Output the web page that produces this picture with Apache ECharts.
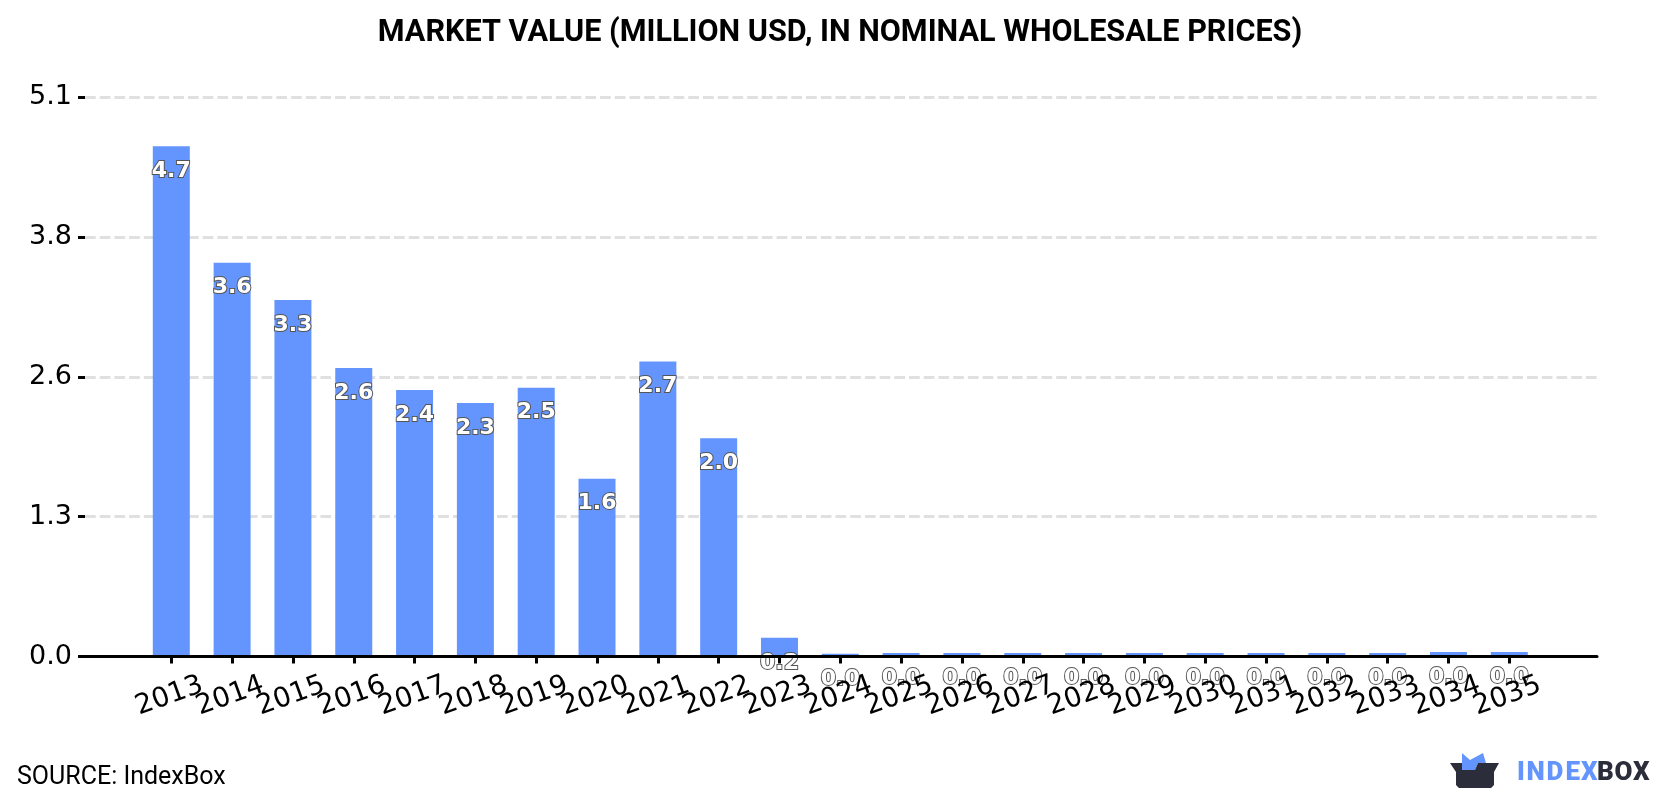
<!DOCTYPE html>
<html>
<head>
<meta charset="utf-8">
<title>Market value</title>
<style>html,body{margin:0;padding:0;background:#fff}#chart{width:1680px;height:800px}</style>
<script src="https://cdn.jsdelivr.net/npm/echarts@6/dist/echarts.min.js"></script>
</head>
<body>
<div id="chart"></div>
<script>
const years = [2013,2014,2015,2016,2017,2018,2019,2020,2021,2022,2023,2024,2025,2026,2027,2028,2029,2030,2031,2032,2033,2034,2035];
const marketValue = [4.65,3.59,3.25,2.63,2.43,2.31,2.45,1.62,2.69,1.99,0.17,0.024,0.033,0.033,0.033,0.033,0.033,0.033,0.033,0.033,0.033,0.042,0.042];
const yTickLabels = ['0.0','1.3','2.6','3.8','5.1'];
const titleText = 'MARKET VALUE (MILLION USD, IN NOMINAL WHOLESALE PRICES)';
const sourceText = 'SOURCE: IndexBox';

const BLUE = '#6495ff';
const INK = '#2b2d3a';
const X_MIN = 2011.581;
const X_MAX = 2036.442;

// Wordmark letters are placed one by one to get its wide tracking.
const brandFont = {fontFamily: 'Roboto', fontWeight: 900, fontSize: 26};
const brandLetters = [['I',1517,BLUE],['N',1526.5,BLUE],['D',1546.5,BLUE],['E',1565.5,BLUE],['X',1581,BLUE],['B',1597,INK],['O',1614.5,INK],['X',1633,INK]];

// The rotated year labels overlap their neighbours; the axis drops a label next to an
// overlapping end label, so odd and even years sit on two coincident axes.
const yearLabels = values => ({
  customValues: values,
  hideOverlap: false,
  rotate: 20,
  align: 'center',
  verticalAlign: 'middle',
  margin: 39,
  padding: [0, 4, 0, 0],
  fontFamily: 'DejaVu Sans',
  fontSize: 27.5,
  color: '#000',
  formatter: v => String(v)
});

const chart = echarts.init(document.getElementById('chart'), null, {renderer: 'canvas'});
chart.setOption({
  animation: false,
  backgroundColor: '#fff',
  title: {
    text: titleText,
    left: 'center',
    top: 13,
    textStyle: {fontFamily: 'Roboto', fontSize: 30.6, fontWeight: 'bold', color: '#000'}
  },
  grid: {left: 85, right: 83, top: 97, height: 559.5, containLabel: false},
  xAxis: [{
    type: 'value',
    position: 'bottom',
    min: X_MIN,
    max: X_MAX,
    z: 3,
    splitLine: {show: false},
    axisLine: {show: true, onZero: false, lineStyle: {color: '#000', width: 3}},
    axisTick: {show: true, customValues: years, length: 7, lineStyle: {color: '#000', width: 3}},
    axisLabel: yearLabels(years.filter(y => y % 2 === 1))
  }, {
    type: 'value',
    position: 'bottom',
    min: X_MIN,
    max: X_MAX,
    z: 3,
    splitLine: {show: false},
    axisLine: {show: false, onZero: false},
    axisTick: {show: false},
    axisLabel: yearLabels(years.filter(y => y % 2 === 0))
  }],
  yAxis: {
    type: 'value',
    min: 0,
    max: 5.1,
    interval: 1.275,
    axisLine: {show: false},
    axisTick: {show: true, length: 7, lineStyle: {color: '#000', width: 3}},
    axisLabel: {
      margin: 13,
      fontFamily: 'DejaVu Sans',
      fontSize: 27,
      color: '#000',
      formatter: (v, i) => yTickLabels[i]
    },
    splitLine: {show: true, lineStyle: {color: '#e0e0e0', width: 3, type: [10.7, 4.015]}}
  },
  series: [{
    type: 'bar',
    xAxisIndex: 0,
    data: years.map((y, i) => [y, marketValue[i]]),
    barWidth: 37,
    z: 2,
    itemStyle: {color: BLUE},
    label: {
      show: true,
      position: 'insideTop',
      distance: 14,
      fontFamily: 'DejaVu Sans',
      fontWeight: 'bold',
      fontSize: 22,
      color: '#fff',
      textBorderColor: '#555',
      textBorderWidth: 2,
      formatter: p => p.value[1].toFixed(1)
    }
  }],
  graphic: [
    {type: 'text', left: 17, top: 765, style: {text: sourceText, fontFamily: 'Roboto', fontSize: 25, fill: '#000'}},
    {type: 'polygon', shape: {points: [[1462,753],[1470,760],[1483,753],[1486,763],[1478,763],[1475,770],[1462,770]]}, style: {fill: BLUE}},
    {type: 'polygon', shape: {points: [[1450,763],[1462,763],[1462,770],[1475,770],[1478,763],[1499,763],[1494,772],[1494,785],[1491,788],[1459,788],[1456,785],[1456,772]]}, style: {fill: INK}}
  ].concat(brandLetters.map(([ch, x, fill]) => ({type: 'text', x: x, y: 760, style: Object.assign({text: ch, fill: fill}, brandFont)})))
});
</script>
</body>
</html>
